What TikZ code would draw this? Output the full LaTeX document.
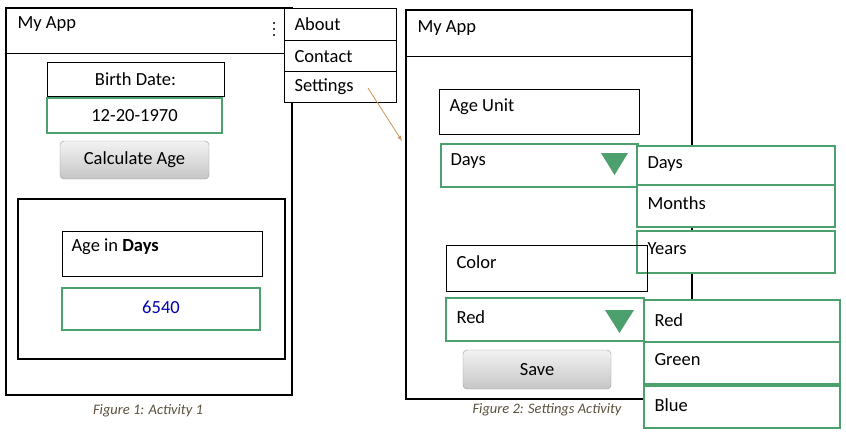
\documentclass[tikz,border=0pt]{standalone}
\usepackage{fontspec}
\setmainfont{Carlito}
\definecolor{gr}{RGB}{76,160,110}
\definecolor{cap}{RGB}{90,80,60}
\definecolor{arr}{RGB}{205,150,90}
\begin{document}
\begin{tikzpicture}[x=1pt,y=-1pt,
 box/.style={draw=black,line width=0.8pt},
 gbox/.style={draw=gr,line width=1.4pt,fill=white},
 btn/.style={draw=gray!80,rounded corners=4pt,top color=gray!10,bottom color=gray!45},
 t/.style={anchor=west,font=\fontsize{18.5}{21}\selectfont},
 c/.style={font=\fontsize{18.5}{21}\selectfont},
 cp/.style={font=\itshape\fontsize{14.5}{16}\selectfont,text=cap}]
\useasboundingbox (0,0) rectangle (846,434);
% left phone
\draw[line width=1.2pt] (6,8) rectangle (292,395);
\draw[box] (6,8) -- (6,53) -- (292,53);
\node[t] (l1) at (14,24) {My App};
\foreach \yy in {23,29,35}\fill (274,\yy) circle (1.2pt);
\draw[box,fill=white] (284,8) rectangle (396,102);
\draw[box] (284,40) -- (396,40) (284,71) -- (396,71);
\node[t] (m1) at (291,24) {About};
\node[t] (m2) at (291,57) {Contact};
\node[t] (m3) at (291,87) {Settings};
\draw[box] (47,62) rectangle (224,96); \node[c] at (135.5,79) {Birth Date:};
\draw[gbox] (47,98) rectangle (222,133); \node[c] at (134.5,115.5) {12-20-1970};
\draw[btn] (60,141) rectangle (209,179); \node[c] at (134.5,160) {Calculate Age};
\draw[line width=1.2pt] (18,199) rectangle (285,359);
\draw[box] (62,231) rectangle (262,276); \node[t] at (68,247) {Age in \textbf{Days}};
\draw[gbox] (62,288) rectangle (260,330); \node[c,text=blue!70!black] at (161,307) {6540};
\node[cp] at (148,411) {Figure 1: Activity 1};
% arrow
\coordinate (a1) at (368,88); \coordinate (a2) at (402,141);
\draw[arr,line width=0.8pt,-latex] (a1) -- (a2);
% right phone
\draw[line width=1.2pt] (406,10) rectangle (692,399);
\draw[box] (406,56) -- (692,56);
\node[t] at (414,28) {My App};
\draw[box] (439,89) rectangle (639,134); \node[t] at (446,107) {Age Unit};
\draw[gbox] (441,144) rectangle (638,187); \node[t] at (447,161) {Days};
\fill[gr] (601,153) -- (628,153) -- (614.5,175) -- cycle;
\draw[gbox] (637,146) rectangle (835,185); \node[t] at (644,164) {Days};
\draw[gbox] (637,185) rectangle (835,227); \node[t] at (644,203) {Months};
\draw[gbox] (637,231) rectangle (835,273); \node[t] at (644,249) {Years};
\draw[box] (446,245) rectangle (647,291); \node[t] at (453,262) {Color};
\draw[gbox] (446,298) rectangle (644,341); \node[t] at (453,317) {Red};
\fill[gr] (605,310) -- (634,310) -- (619.5,333) -- cycle;
\draw[gbox] (644,300) rectangle (840,342); \node[t] at (651,320) {Red};
\draw[gbox] (644,342) rectangle (840,384); \node[t] at (651,360) {Green};
\draw[gbox] (644,386) rectangle (840,428); \node[t] at (651,405) {Blue};
\draw[btn] (463,350) rectangle (611,389); \node[c] at (537,369.5) {Save};
\node[cp] at (547,410) {Figure 2: Settings Activity};
\end{tikzpicture}
\end{document}
